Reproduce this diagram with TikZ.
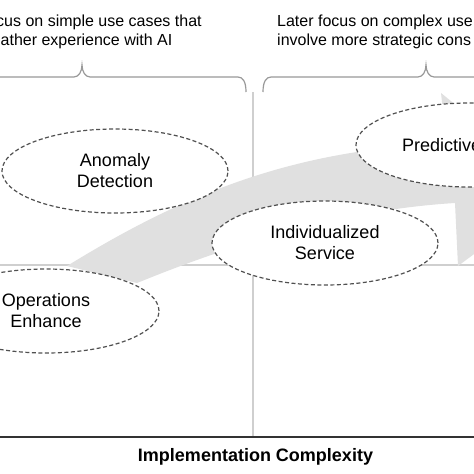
\documentclass[tikz,border=0pt]{standalone}
\usepackage{fontspec}
\setmainfont{Liberation Sans}
\usetikzlibrary{shapes.geometric}
\definecolor{arrowgray}{HTML}{E0E0E0}
\definecolor{gridgray}{HTML}{CFCFCF}
\definecolor{bracegray}{HTML}{999999}
\definecolor{dashgray}{HTML}{505050}
\definecolor{axisgray}{HTML}{333333}
\tikzset{
  ovalnode/.style={ellipse, draw=dashgray, line width=1.2pt, dash pattern=on 4pt off 2.5pt,
    minimum width=226pt, minimum height=84pt, inner sep=0pt, align=center,
    font=\fontsize{18}{21}\selectfont},
  toptext/.style={anchor=base west, inner sep=0pt, font=\fontsize{16}{19}\selectfont},
  gridline/.style={draw=gridgray, line width=1.5pt},
  bracestyle/.style={draw=bracegray, line width=1.2pt},
}
\begin{document}
\begin{tikzpicture}[x=1pt,y=-1pt]
\useasboundingbox (0,0) rectangle (474,474);
\clip (0,0) rectangle (474,474);
\fill[white] (0,0) rectangle (474,474);
% grid lines
\coordinate (mlL) at (0,265);
\coordinate (mlR) at (474,265);
\coordinate (vdT) at (253,92);
\coordinate (vdB) at (253,437);
\draw[gridline] (mlL) -- (mlR);
\draw[gridline] (vdT) -- (vdB);
% big curved arrow
\fill[arrowgray] (67,266) .. controls (150,215) and (240,170) .. (357,152)
  -- (446,138) -- (441,93) -- (560,190) -- (458,266) -- (455,203)
  .. controls (340,210) and (230,245) .. (137,283) -- cycle;
% ellipses
\node[ovalnode, fill=white] (anom) at (115,171) {Anomaly\\Detection};
\node[ovalnode, fill=white] (indiv) at (325,243) {Individualized\\Service};
\node[ovalnode, fill=white] (pred) at (469,145) {};
\node[anchor=base west, inner sep=0pt, font=\fontsize{18}{21}\selectfont] (predtext) at (402,151) {Predictive};
\node[ovalnode] (oper) at (46,311) {Operations\\Enhance};
% braces
\draw[bracestyle] (0,77) -- (74,77) .. controls (79,77) and (82,71) .. (82,65)
  .. controls (82,71) and (85,77) .. (90,77) -- (238,77)
  .. controls (243,77) and (246,82) .. (246,92);
\draw[bracestyle] (263,92) .. controls (263,82) and (266,77) .. (271,77) -- (418,77)
  .. controls (423,77) and (426,71) .. (426,65)
  .. controls (426,71) and (429,77) .. (434,77) -- (474,77);
% top texts
\node[toptext] (lt1) at (-4,26.5) {cus on simple use cases that};
\node[toptext] (lt2) at (0.5,45.5) {ather experience with AI};
\node[toptext] (rt1) at (277,26.5) {Later focus on complex use};
\node[toptext] (rt2) at (277,45.5) {involve more strategic cons};
% axis
\coordinate (axL) at (0,437);
\coordinate (axR) at (474,437);
\draw[draw=axisgray, line width=2pt] (axL) -- (axR);
\node[anchor=base, inner sep=0pt, font=\fontsize{18}{21}\selectfont\bfseries] (title) at (255.5,461) {Implementation Complexity};
\end{tikzpicture}
\end{document}
